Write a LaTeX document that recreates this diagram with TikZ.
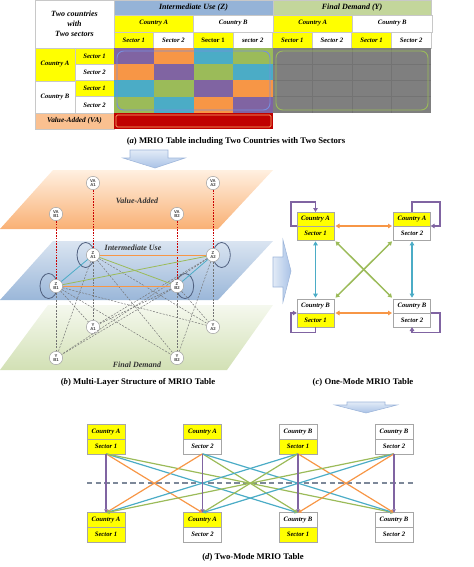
\documentclass[tikz,border=0pt]{standalone}
\usepackage{fontspec}
\setmainfont{Liberation Serif}
\setsansfont{Liberation Sans}
\usetikzlibrary{arrows.meta, positioning, backgrounds}

\definecolor{cpurple}{HTML}{8064A2}
\definecolor{corange}{HTML}{F79646}
\definecolor{cblue}{HTML}{4BACC6}
\definecolor{cgreen}{HTML}{9BBB59}
\definecolor{cyellow}{HTML}{FFFF00}
\definecolor{cgray}{HTML}{7F7F7F}
\definecolor{zhead}{HTML}{95B3D7}
\definecolor{yhead}{HTML}{C3D69B}
\definecolor{vahead}{HTML}{FAC090}
\definecolor{cred}{HTML}{C00000}
\definecolor{gridc}{HTML}{C8C8C8}
\definecolor{loopc}{HTML}{50607F}
\definecolor{arrtop}{HTML}{E2EBF7}
\definecolor{arrbot}{HTML}{A9C2E6}
\definecolor{arrline}{HTML}{9DB5DA}
\definecolor{divc}{HTML}{7D8899}

\tikzset{
  tbl/.style={draw=gridc, line width=0.4pt},
  hdtxt/.style={font=\fontsize{6}{7.5}\selectfont\bfseries\itshape, inner sep=0pt, align=center},
  ctxt/.style={font=\fontsize{5}{6}\selectfont\bfseries\itshape, inner sep=0pt},
  captxt/.style={font=\fontsize{6.5}{7.5}\selectfont\bfseries, inner sep=0pt},
  lnode/.style={circle, draw=gray!70, fill=white, minimum size=10pt, inner sep=0pt,
    font=\fontsize{3.2}{3.5}\selectfont\sffamily\bfseries, align=center, text=black!75},
  obox/.style={draw=gray!70, minimum width=28pt, minimum height=10.5pt, inner sep=0pt,
    outer sep=0pt, font=\fontsize{5}{6}\selectfont\bfseries\itshape},
  tbox/.style={obox, minimum width=28.5pt, minimum height=10.9pt},
  bigarrow/.style={top color=arrtop, bottom color=arrbot, draw=arrline, line width=0.4pt},
  vaedge/.style={draw=red!80!black, line width=0.7pt, dash pattern=on 1.2pt off 0.9pt},
  zyedge/.style={draw=black!55, line width=0.35pt, dash pattern=on 1.5pt off 1pt},
  zedge/.style={line width=0.6pt},
  zloop/.style={draw=loopc, line width=0.6pt},
  biarrow/.style={{Triangle[width=3.4pt,length=3pt]}-{Triangle[width=3.4pt,length=3pt]}, line width=1.1pt},
  loopar/.style={-{Triangle[width=3.4pt,length=3pt]}, line width=1.1pt, cpurple},
  tmarrow/.style={-{Triangle[width=2.6pt,length=2.6pt]}, line width=0.9pt}
}

\begin{document}
\begin{tikzpicture}[x=0.75pt, y=-0.75pt]
\useasboundingbox (0,0) rectangle (474,567);

% (a) the table
\draw[tbl, fill=white] (35,0) rectangle node[hdtxt] (corner) {Two countries\\with\\Two sectors} (114,48);
\draw[tbl, fill=zhead] (114,0) rectangle node[hdtxt] (zhd) {Intermediate Use (Z)} (273,15);
\draw[tbl, fill=yhead] (273,0) rectangle node[hdtxt] (yhd) {Final Demand (Y)} (431,15);
\foreach \x/\f/\t [count=\i] in {114/cyellow/Country A, 193.5/white/Country B, 273/cyellow/Country A, 352.5/white/Country B}
  \draw[tbl, fill=\f] (\x,15) rectangle node[ctxt] (hc\i) {\t} ++(79.5,17);
\foreach \i/\f/\t in {0/cyellow/Sector 1, 1/white/Sector 2, 2/cyellow/\upshape Sector 1, 3/white/sector 2,
    4/cyellow/Sector 1, 5/white/Sector 2, 6/cyellow/Sector 1, 7/white/Sector 2}
  \draw[tbl, fill=\f] (114+\i*39.625,32) rectangle node[ctxt] (hs\i) {\t} ++(39.625,16);
\draw[tbl, fill=cyellow] (35,48) rectangle node[ctxt] (rcA) {Country A} (75,81);
\draw[tbl, fill=white] (35,81) rectangle node[ctxt] (rcB) {Country B} (75,113);
\foreach \j/\f/\t in {0/cyellow/Sector 1, 1/white/Sector 2, 2/cyellow/Sector 1, 3/white/Sector 2}
  \draw[tbl, fill=\f] (75,48+\j*16.25) rectangle node[ctxt] (rs\j) {\t} ++(39,16.25);

% Z block
\foreach \c [count=\i from 0] in {cpurple,corange,cblue,cgreen, corange,cpurple,cgreen,cblue,
    cblue,cgreen,cpurple,corange, cgreen,cblue,corange,cpurple} {
  \pgfmathtruncatemacro\row{int(\i/4)}
  \pgfmathtruncatemacro\col{mod(\i,4)}
  \fill[\c] (114+\col*39.75,48+\row*16.25) rectangle ++(39.75,16.25);
}
% Y block
\fill[cgray] (273,48) rectangle (431,113);
\foreach \i in {1,2,3} {
  \draw[black!55, line width=0.4pt] (273+\i*39.5,48) -- (273+\i*39.5,113);
  \draw[black!55, line width=0.4pt] (273,48+\i*16.25) -- (431,48+\i*16.25);
}
\draw[rounded corners=5pt, draw=zhead!80!blue, line width=0.7pt] (117,51) rectangle (270,110);
\draw[rounded corners=5pt, draw=cgreen, line width=0.7pt] (276,51) rectangle (428,110);
% VA row
\draw[tbl, fill=vahead] (35,113) rectangle node[hdtxt, font=\fontsize{5.5}{6}\selectfont\bfseries\itshape] (vahd) {Value-Added (VA)} (114,129);
\fill[cred] (114,113) rectangle (273,129);
\draw[corange!80, line width=0.5pt, rounded corners=1pt] (116,115) rectangle (271,127);

\node[captxt] (capa) at (236,141) {(\textit{a}) MRIO Table including Two Countries with Two Sectors};

% arrows between panels
\shade[bigarrow] (130,150) -- (168,150) -- (168,158) -- (185,158) -- (155,168) -- (123,158) -- (130,158) -- cycle;
\shade[bigarrow, left color=arrtop, right color=arrbot] (273,257) -- (283,257) -- (283,240) -- (291,271) -- (283,302) -- (283,287) -- (273,287) -- cycle;
\shade[bigarrow] (347,402) -- (385,402) -- (385,405) -- (397,405) -- (366,413) -- (335,405) -- (347,405) -- cycle;

% (b) layers
\begin{scope}[on background layer]
  \shade[top color=orange!12, bottom color=corange!75] (53,170) -- (273,170) -- (218,229) -- (0,229) -- cycle;
  \shade[top color=zhead!35, bottom color=zhead!95] (53,241) -- (273,241) -- (218,300) -- (0,300) -- cycle;
  \shade[top color=cgreen!10, bottom color=cgreen!45] (48,305) -- (273,305) -- (227,370) -- (0,370) -- cycle;
\end{scope}
\node[hdtxt, text=black!80] (lva) at (137,201) {Value-Added};
\node[hdtxt, text=black!80] (lzu) at (133,248) {Intermediate Use};
\node[hdtxt, text=black!80] (lfd) at (137,365) {Final Demand};

\foreach \n/\x/\dy in {A1/93/0, A2/213/0, B1/56/31, B2/177/31} {
  \node[lnode] (VA\n) at (\x,183+\dy) {VA\\\n};
  \node[lnode] (Z\n) at (\x,255+\dy) {Z\\\n};
  \node[lnode] (Y\n) at (\x,327+\dy) {Y\\\n};
}
\begin{scope}[on background layer]
  \draw[zloop] ([xshift=-5.5pt]ZA1.center) ellipse [x radius=6.5pt, y radius=9.4pt];
  \draw[zloop] ([xshift=6.5pt]ZA2.center) ellipse [x radius=6.5pt, y radius=9.4pt];
  \draw[zloop] ([xshift=-5.5pt]ZB1.center) ellipse [x radius=6.5pt, y radius=9.4pt];
  \draw[zloop] ([xshift=6pt]ZB2.center) ellipse [x radius=6.5pt, y radius=9.4pt];
\end{scope}

\foreach \n in {A1,A2,B1,B2}
  \draw[vaedge] (VA\n) -- (Z\n);
\foreach \a in {A1,A2,B1,B2}
  \foreach \b in {A1,A2,B1,B2}
    \draw[zyedge] (Z\a) -- (Y\b);
\draw[zedge, corange] (ZA1) -- (ZA2);
\draw[zedge, corange] (ZB1) -- (ZB2);
\draw[zedge, cblue] (ZA1) -- (ZB1);
\draw[zedge, cblue] (ZA2) -- (ZB2);
\draw[zedge, cgreen] (ZA1) -- (ZB2);
\draw[zedge, cgreen] (ZA2) -- (ZB1);

\node[captxt] (capb) at (138,382) {(\textit{b}) Multi-Layer Structure of MRIO Table};

% (c) one-mode
\node[obox, fill=cyellow] (oA1c) at (315.5,219) {Country A};
\node[obox, fill=cyellow, below=0pt of oA1c] (oA1s) {Sector 1};
\node[obox, fill=cyellow] (oA2c) at (412,219) {Country A};
\node[obox, fill=white, below=0pt of oA2c] (oA2s) {Sector 2};
\node[obox, fill=white] (oB1c) at (315.5,306) {Country B};
\node[obox, fill=cyellow, below=0pt of oB1c] (oB1s) {Sector 1};
\node[obox, fill=white] (oB2c) at (412,306) {Country B};
\node[obox, fill=white, below=0pt of oB2c] (oB2s) {Sector 2};

\draw[biarrow, corange] ([xshift=1pt]oA1c.south east) -- ([xshift=-1pt]oA2c.south west);
\draw[biarrow, corange] ([xshift=1pt]oB1c.south east) -- ([xshift=-1pt]oB2c.south west);
\draw[biarrow, cblue] ([yshift=-1pt]oA1s.south) -- ([yshift=1pt]oB1c.north);
\draw[biarrow, cblue] ([yshift=-1pt]oA2s.south) -- ([yshift=1pt]oB2c.north);
\draw[biarrow, cgreen] ([xshift=1pt,yshift=-1pt]oA1s.south east) -- ([xshift=-1pt,yshift=1pt]oB2c.north west);
\draw[biarrow, cgreen] ([xshift=-1pt,yshift=-1pt]oA2s.south west) -- ([xshift=1pt,yshift=1pt]oB1c.north east);

\draw[loopar] (oA1c.south west) -- ++(-4.5pt,0) |- ([yshift=7.5pt]oA1c.north) -- (oA1c.north);
\draw[loopar] (oA2c.north) -- ++(0,7.5pt) -| ([xshift=7pt]oA2c.south east) -- (oA2c.south east);
\draw[loopar] (oB1s.south) -- ++(0,-4pt) -| ([xshift=-4.5pt]oB1s.north west) -- (oB1s.north west);
\draw[loopar] (oB2s.north east) -- ++(7pt,0) |- ([yshift=-4pt]oB2s.south) -- (oB2s.south);

\node[captxt] (capc) at (363,382) {(\textit{c}) One-Mode MRIO Table};

% (d) two-mode
\foreach \n/\x/\cc/\sc/\cn/\sn in {A1/106/cyellow/cyellow/A/1, A2/202.5/cyellow/white/A/2,
    B1/298/white/cyellow/B/1, B2/394/white/white/B/2} {
  \node[tbox, fill=\cc] (tc\n) at (\x,432) {Country \cn};
  \node[tbox, fill=\sc, below=0pt of tc\n] (ts\n) {Sector \sn};
  \node[tbox, fill=\cc] (bc\n) at (\x,520) {Country \cn};
  \node[tbox, fill=\sc, below=0pt of bc\n] (bs\n) {Sector \sn};
}
\coordinate (divl) at (87,483);
\coordinate (divr) at (413,483);
\draw[divc, line width=1pt, dash pattern=on 4pt off 2.5pt] (divl) -- (divr);
\foreach \s/\t/\c in {A1/A2/corange, A1/B1/cblue, A1/B2/cgreen,
    A2/A1/corange, A2/B1/cgreen, A2/B2/cblue,
    B1/A1/cblue, B1/A2/cgreen, B1/B2/corange,
    B2/A1/cgreen, B2/A2/cblue, B2/B1/corange,
    A1/A1/cpurple, A2/A2/cpurple, B1/B1/cpurple, B2/B2/cpurple}
  \draw[tmarrow, \c] (ts\s.south) -- (bc\t.north);

\node[captxt] (capd) at (253,557) {(\textit{d}) Two-Mode MRIO Table};
\end{tikzpicture}
\end{document}
